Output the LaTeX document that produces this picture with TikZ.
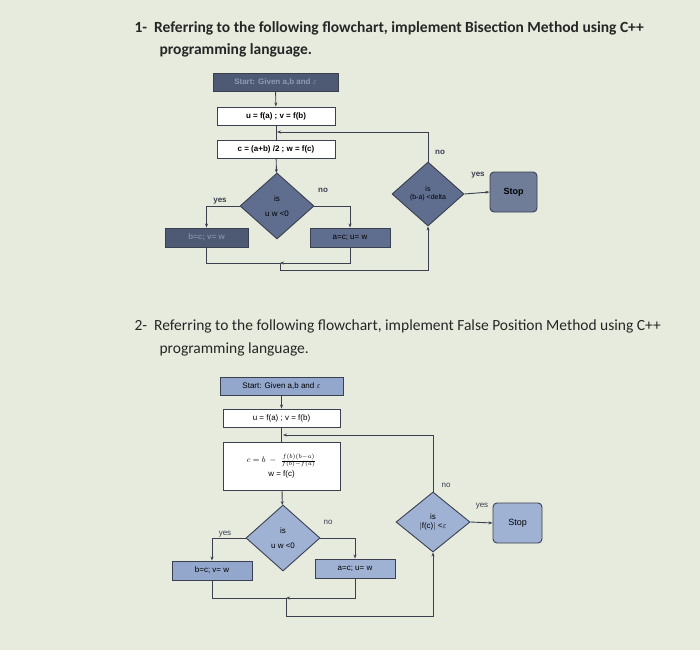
\documentclass[tikz,border=0pt]{standalone}
\usepackage{fontspec}
\setmainfont{Liberation Sans}
\newfontfamily\ttl{Carlito}
\usetikzlibrary{shapes.geometric,arrows.meta}
\definecolor{page}{HTML}{E6EBDD}
\definecolor{dk}{HTML}{4E5A74}
\definecolor{dkd}{HTML}{5F6E8E}
\definecolor{lt}{HTML}{93A7CC}
\definecolor{ltd}{HTML}{9FB2D4}
\definecolor{ln}{HTML}{3A4050}
\begin{document}
\begin{tikzpicture}[x=1pt,y=-1pt,
  bx/.style={draw=ln,line width=0.9pt,fill=white,minimum height=18pt,inner sep=1pt,font=\footnotesize\bfseries},
  fbx/.style={bx,fill=#1},
  dia/.style={diamond,draw=ln,line width=0.9pt,fill=#1,minimum width=74pt,minimum height=66pt,inner sep=0pt,font=\footnotesize,align=center,aspect=1.1},
  stp/.style={draw=ln,line width=0.9pt,rounded corners=4pt,fill=#1,minimum width=47pt,minimum height=40pt,font=\small\bfseries},
  ar/.style={draw=ln,line width=0.9pt,-{Stealth[length=4pt]}},
  cn/.style={draw=ln,line width=0.9pt},
  lb/.style={font=\footnotesize\bfseries,text=ln},
  tt/.style={font=\ttl\bfseries\fontsize{15.5}{18}\selectfont,anchor=west,text=black!85}]
\fill[page] (0,0) rectangle (700,650);
\useasboundingbox (0,0) rectangle (700,650);
\node[tt] (t1a) at (131,28) {1-\ \ Referring to the following flowchart, implement Bisection Method using C++};
\node[tt] (t1b) at (156,50) {programming language.};
\node[tt,font=\ttl\fontsize{15.5}{18}\selectfont] (t2a) at (131,326) {2-\ \ Referring to the following flowchart, implement False Position Method using C++};
\node[tt,font=\ttl\fontsize{15.5}{18}\selectfont] (t2b) at (156,349) {programming language.};
% ---- chart 1
\node[fbx=dk,minimum width=125pt,text=dkd!70] (s1) at (275.5,82.5) {Start: Given a,b and $\varepsilon$};
\node[bx,minimum width=118pt] (u1) at (276,116) {u = f(a) ; v = f(b)};
\node[bx,minimum width=118pt] (c1) at (276,149) {c = (a+b) /2 ; w = f(c)};
\node[dia=dkd] (d1) at (277,206) {is\\[5pt]u w <0};
\node[fbx=dk,minimum width=83pt,minimum height=19pt,text=dkd!80] (y1) at (206.5,237.5) {b=c; v= w};
\node[fbx=dkd,minimum width=80pt,minimum height=19pt,font=\footnotesize] (n1) at (350,237.5) {a=c; u= w};
\node[dia=dkd,minimum width=72pt,minimum height=64pt,font=\scriptsize] (d2) at (428,194) {is\\(b-a) <delta};
\node[stp=dkd!90] (st1) at (513.5,192) {Stop};
\coordinate (m1) at (280,263);
\coordinate (j1) at (277,132);
\draw[ar] (s1) -- (u1);
\draw[cn] (u1) -- (c1);
\draw[ar] (c1) -- (d1);
\draw[ar] (d1.west) -| (y1.north);
\draw[ar] (d1.east) -| (n1.north);
\draw[cn] (y1.south) |- (m1);
\draw[ar] (n1.south) |- (m1);
\draw[ar] (m1) -- (280,270) -| (d2.south);
\draw[ar] (d2.north) |- (j1);
\draw[ar] (d2.east) -- (st1.west);
\node[lb] at (440,152) {no};
\node[lb] at (478,175) {yes};
\node[lb] at (220,201) {yes};
\node[lb] at (323,190) {no};
% ---- chart 2
\node[fbx=lt,minimum width=123pt,font=\footnotesize] (s2) at (281.5,386) {Start: Given a,b and $\varepsilon$};
\node[bx,minimum width=117pt,font=\footnotesize] (u2) at (281.5,418) {u = f(a) ; v = f(b)};
\node[bx,minimum width=117pt,minimum height=48pt,align=center,font=\footnotesize] (c2) at (281.5,466) {$c=b\;-\;\frac{f(b)(b-a)}{f(b)-f(a)}$\\[2pt] w = f(c)};
\node[dia=ltd] (d3) at (283,538) {is\\[5pt]u w <0};
\node[fbx=lt,minimum width=80pt,minimum height=19pt,font=\footnotesize] (y2) at (212,570.5) {b=c; v= w};
\node[fbx=ltd,minimum width=80pt,minimum height=19pt,font=\footnotesize] (n2) at (355,568.5) {a=c; u= w};
\node[dia=ltd,minimum width=74pt,minimum height=60pt] (d4) at (433,522) {is\\$|$f(c)$|$ <$\varepsilon$};
\node[stp=ltd,minimum width=49pt,font=\small] (st2) at (517.5,523) {Stop};
\coordinate (m2) at (286,598);
\coordinate (j2) at (283,435);
\draw[ar] (s2) -- (u2);
\draw[cn] (u2) -- (c2);
\draw[ar] (c2) -- (d3);
\draw[ar] (d3.west) -| (y2.north);
\draw[ar] (d3.east) -| (n2.north);
\draw[cn] (y2.south) |- (m2);
\draw[ar] (n2.south) |- (m2);
\draw[ar] (m2) -- (286,616) -| (d4.south);
\draw[ar] (d4.north) |- (j2);
\draw[ar] (d4.east) -- (st2.west);
\node[lb,font=\footnotesize] at (446,485) {no};
\node[lb,font=\footnotesize] at (482,506) {yes};
\node[lb,font=\footnotesize] at (225,534) {yes};
\node[lb,font=\footnotesize] at (328,522) {no};
\end{tikzpicture}
\end{document}
